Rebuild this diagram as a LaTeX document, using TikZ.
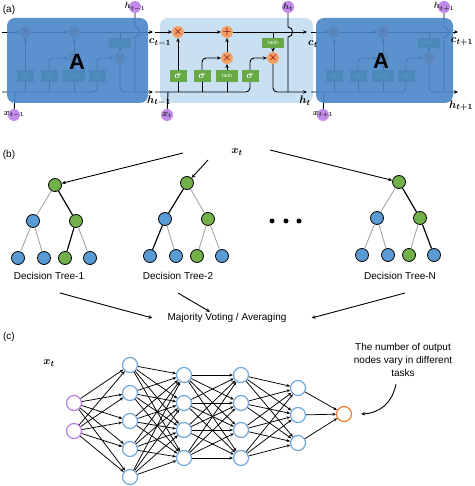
\documentclass[tikz,border=0pt]{standalone}
\usepackage{fontspec}
\setmainfont{Liberation Sans}
\usepackage{bm}
\usetikzlibrary{arrows.meta,calc}

\definecolor{cellblue}{HTML}{4A86C8}
\definecolor{celllight}{HTML}{C9DFF2}
\definecolor{gategreen}{HTML}{67AA45}
\definecolor{pwcol}{HTML}{F0A062}
\definecolor{iopurple}{HTML}{C28BEA}
\definecolor{treegreen}{HTML}{72B04A}
\definecolor{treeblue}{HTML}{5B9BD5}
\definecolor{nnblue}{HTML}{6FA8DC}
\definecolor{nnpurple}{HTML}{B77FE0}
\definecolor{nnorange}{HTML}{ED7D31}

\tikzset{
  flow/.style={-{Stealth[length=4pt,width=3.5pt]}, line width=0.9pt},
  wire/.style={line width=0.9pt},
  gate/.style={fill=gategreen, text=white, minimum width=17, minimum height=12, inner sep=0pt, font=\fontsize{10}{10}\selectfont},
  pw/.style={circle, fill=pwcol, text=red!55!black, minimum size=9, inner sep=0pt, font=\bfseries},
  io/.style={circle, fill=iopurple, minimum size=12, inner sep=0pt},
  iolab/.style={font=\fontsize{9}{9}\selectfont, text=black!85},
  mlab/.style={font=\fontsize{11}{11}\selectfont},
  tnode/.style={circle, draw=black, line width=0.8pt, minimum size=13, inner sep=0pt},
  tedge/.style={gray!70, line width=0.9pt},
  tpath/.style={black, line width=1.1pt},
  nhid/.style={circle, draw=nnblue, line width=1.2pt, fill=white, minimum size=15, inner sep=0pt},
  nin/.style={nhid, draw=nnpurple},
  nout/.style={nhid, draw=nnorange},
  nnlink/.style={-{Stealth[length=3.5pt,width=3pt]}, line width=0.75pt},
}

% one LSTM cell: name, left edge, arrow tip (from left edge), time subscript
\newcommand{\lstmcell}[4]{%
\begin{scope}[shift={(#2,0)}]
\node[gate] (#1s1) at (18,76) {$\bm{\sigma}$};
\node[gate] (#1s2) at (42,76) {$\bm{\sigma}$};
\node[gate, minimum width=22, font=\fontsize{5}{5}\selectfont] (#1tg) at (67,76) {tanh};
\node[gate] (#1s3) at (90,76) {$\bm{\sigma}$};
\node[gate, minimum width=22, minimum height=10, font=\fontsize{5}{5}\selectfont] (#1tc) at (113,43) {tanh};
\node[pw] (#1f) at (18,32) {$\bm{\times}$};
\node[pw] (#1add) at (67,32) {$\bm{+}$};
\node[pw] (#1i) at (67,58) {$\bm{\times}$};
\node[pw] (#1o) at (113,58) {$\bm{\times}$};
\node[io, label={[iolab]center:$\bm{h_{#4}}$}] (#1h) at (128,7) {};
\node[io, label={[iolab]center:$\bm{x_{#4}}$}] (#1x) at (7,115) {};
% cell state
\draw[flow] (-5,32) -- (#1f);
\draw[flow] (#1f) -- (#1add);
\draw[flow] (#1add) -- (#3,32);
\draw[wire] (113,32) -- (#1tc);
\draw[flow] (#1tc) -- (#1o);
\draw[flow, rounded corners=4] (#1o) |- (#3,92);
% hidden input and gates
\draw[wire, rounded corners=4] (-5,92) -| (#1s3);
\draw[wire] (18,92) -- (#1s1);
\draw[flow] (#1s1) -- (#1f);
\draw[wire] (42,92) -- (#1s2);
\draw[flow, rounded corners=4] (#1s2) |- (#1i);
\draw[wire] (67,92) -- (#1tg);
\draw[flow] (#1tg) -- (#1i);
\draw[flow] (#1i) -- (#1add);
\draw[flow, rounded corners=4] (#1s3) |- (#1o);
% output and input stems
\draw[wire] (128,92) -- (128,37) .. controls (134,37) and (134,27) .. (128,27) -- (#1h);
\draw[wire] (#1x) -- (8,92);
\end{scope}}

% one decision tree: name, root position, black child, black leaf
\newcommand{\dtree}[4]{%
\begin{scope}[shift={#2}]
\node[tnode, fill=treegreen] (#1r) at (0,0) {};
\node[tnode, fill=treeblue] (#1a) at (-22,36) {};
\node[tnode, fill=treegreen] (#1b) at (21,36) {};
\node[tnode, fill=treeblue] (#1l1) at (-37,73) {};
\node[tnode, fill=treeblue] (#1l2) at (-11,73) {};
\node[tnode, fill=treegreen] (#1l3) at (10,73) {};
\node[tnode, fill=treeblue] (#1l4) at (35,73) {};
\end{scope}
\draw[tedge] (#1r) -- (#1a) (#1r) -- (#1b)
  (#1a) -- (#1l1) (#1a) -- (#1l2) (#1b) -- (#1l3) (#1b) -- (#1l4);
\draw[tpath] (#1r) -- (#1#3) -- (#1#4);
}

\begin{document}
\begin{tikzpicture}[x=1pt, y=-1pt]
\useasboundingbox (0,0) rectangle (474,486);
\fill[white] (0,0) rectangle (474,486);

% (a) LSTM chain
\node at (9,10) {(a)};
\fill[celllight, rounded corners=8] (160,18) rectangle (313,103);
\lstmcell{m}{160}{147}{t}
\lstmcell{l}{7}{146}{t-1}
\fill[cellblue, fill opacity=0.9, rounded corners=8] (7,18) rectangle (148,103);
\node[font=\fontsize{22}{22}\selectfont\bfseries] at (77,62) {A};
\lstmcell{r}{316}{142}{t+1}
\fill[cellblue, fill opacity=0.9, rounded corners=8] (316,18) rectangle (453,103);
\node[font=\fontsize{22}{22}\selectfont\bfseries] at (381,61) {A};
\node[mlab] at (160,43) {$\bm{c_{t-1}}$};
\node[mlab] at (159,101) {$\bm{h_{t-1}}$};
\node[mlab] at (313,44) {$\bm{c_{t}}$};
\node[mlab] at (305,101) {$\bm{h_{t}}$};
\node[mlab] at (462,42) {$\bm{c_{t+1}}$};
\node[mlab] at (461,106) {$\bm{h_{t+1}}$};

% (b) random forest
\node at (9,155) {(b)};
\node[mlab] (xb) at (237,152) {$\bm{x_t}$};
\dtree{ta}{(55,185)}{b}{l3}
\dtree{tb}{(187,183)}{a}{l1}
\dtree{tn}{(399,182)}{b}{l4}
\foreach \x in {272,286,299} \fill (\x,221) circle (2.5);
\node (laba) at (49,276) {Decision Tree-1};
\node (labb) at (178,276) {Decision Tree-2};
\node (labn) at (400,276) {Decision Tree-N};
\coordinate (b1) at (183,153);
\coordinate (b2) at (208,160);
\coordinate (b3) at (270,150);
\draw[flow] (b1) -- (tar);
\draw[flow] (b2) -- (tbr);
\draw[flow] (b3) -- (tnr);
\node[inner xsep=15pt] (vote) at (227,318) {Majority Voting / Averaging};
\coordinate (v1) at (60,293);
\coordinate (v2) at (178,293);
\coordinate (v3) at (405,293);
\draw[flow] (v1) -- (vote.west);
\draw[flow] (v2) -- ([xshift=-17pt,yshift=-2pt]vote.north);
\draw[flow] (v3) -- ([xshift=10pt]vote.east);

% (c) neural network
\node at (9,337) {(c)};
\node[mlab] at (49,363) {$\bm{x_t}$};
\foreach \y [count=\i] in {403,431} \node[nin] (in\i) at (74,\y) {};
\foreach \y [count=\i] in {365,393,421,449,477} \node[nhid] (ha\i) at (130,\y) {};
\foreach \y [count=\i] in {375,403,430,458} \node[nhid] (hb\i) at (184,\y) {};
\foreach \y [count=\i] in {375,403,430,458} \node[nhid] (hc\i) at (241,\y) {};
\foreach \y [count=\i] in {388,415,443} \node[nhid] (hd\i) at (298,\y) {};
\node[nout] (out) at (344,414) {};
\foreach \i in {1,2} \foreach \j in {1,...,5} \draw[nnlink] (in\i) -- (ha\j);
\foreach \i in {1,...,5} \foreach \j in {1,...,4} \draw[nnlink] (ha\i) -- (hb\j);
\foreach \i in {1,...,4} \foreach \j in {1,...,4} \draw[nnlink] (hb\i) -- (hc\j);
\foreach \i in {1,...,4} \foreach \j in {1,2,3} \draw[nnlink] (hc\i) -- (hd\j);
\foreach \i in {1,2,3} \draw[nnlink] (hd\i) -- (out);
\node[align=center, font=\fontsize{10}{13}\selectfont] (note) at (403,360) {The number of output\\nodes vary in different\\tasks};
\draw[flow] ([xshift=-7pt,yshift=-4pt]note.south) .. controls (392,403) and (380,413) .. ([xshift=9pt]out.east);
\end{tikzpicture}
\end{document}
